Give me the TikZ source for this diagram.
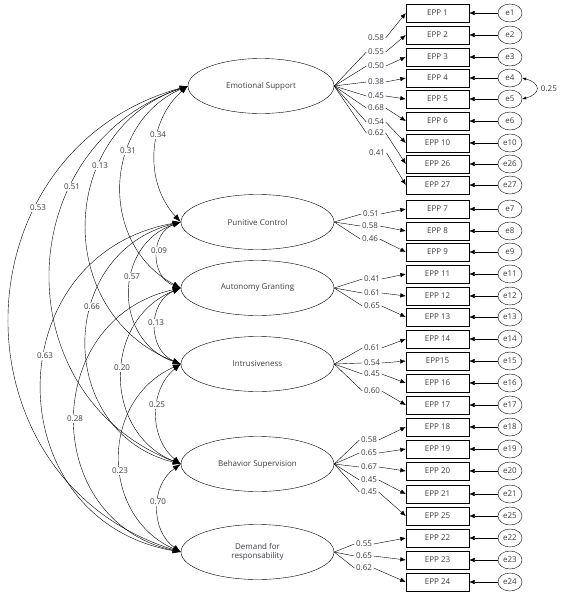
\documentclass[tikz,border=0pt]{standalone}
\usepackage{fontspec}
\setmainfont{Open Sans}
\usetikzlibrary{shapes.geometric, arrows.meta, positioning}
\definecolor{semgray}{RGB}{60,60,72}

\begin{document}
\begin{tikzpicture}[x=1pt, y=1pt, font=\fontsize{8}{9}\selectfont, text=semgray,
  latent/.style={draw, ellipse, minimum width=153pt, minimum height=55pt, inner sep=0pt, align=center},
  item/.style={draw, minimum width=63pt, minimum height=18pt, inner sep=0pt},
  err/.style={draw, ellipse, minimum width=24pt, minimum height=18pt, inner sep=0pt},
  load/.style={inner sep=1.5pt},
  corr/.style={inner sep=1pt, fill=white},
  tip/.style={-{Latex[length=5.5pt, width=4.5pt]}},
  cov/.style={{Latex[length=8pt, width=5.5pt]}-{Latex[length=8pt, width=5.5pt]}}]
 \useasboundingbox (0,0) rectangle (563,-598);
 % latent factors
 \node[latent, minimum width=146pt] (es) at (261,-86) {Emotional Support};
 \node[latent] (pc) at (257.5,-222) {Punitive Control};
 \node[latent] (ag) at (257.5,-288) {Autonomy Granting};
 \node[latent] (intr) at (257.5,-364) {Intrusiveness};
 \node[latent] (bs) at (257.5,-464) {Behavior Supervision};
 \node[latent] (dr) at (257.5,-552) {Demand for\\responsability};
 % items and errors
 \foreach \n/\t/\y in {1/EPP 1/13, 2/EPP 2/35, 3/EPP 3/57, 4/EPP 4/78, 5/EPP 5/99, 6/EPP 6/121, 10/EPP 10/143, 26/EPP 26/164, 27/EPP 27/185,
   7/EPP 7/209, 8/EPP 8/231, 9/EPP 9/252, 11/EPP 11/274, 12/EPP 12/296, 13/EPP 13/317,
   14/EPP 14/339, 15/EPP15/361, 16/EPP 16/383, 17/EPP 17/405, 18/EPP 18/427, 19/EPP 19/449, 20/EPP 20/471, 21/EPP 21/494, 25/EPP 25/516,
   22/EPP 22/538, 23/EPP 23/560, 24/EPP 24/582}{
   \node[item] (epp\n) at (437.5,-\y) {\t};
   \node[err] (err\n) at (510,-\y) {e\n};
   \draw[tip] (err\n) -- (epp\n);
 }
 \draw[{Latex[length=4pt, width=3pt]}-{Latex[length=4pt, width=3pt]}] (err4.east) to[out=-15, in=15, looseness=2.4] node[right=1pt] (c45) {0.25} (err5.east);
 % loadings
 \foreach \n/\v/\x/\y in {1/0.58/376/38, 2/0.55/376/52, 3/0.50/376/66, 4/0.38/376/82, 5/0.45/376/96, 6/0.68/376/108, 10/0.54/376/122, 26/0.62/376/133, 27/0.41/377/153,
   7/0.51/371/214, 8/0.58/370/226, 9/0.46/370/239, 11/0.41/372/279, 12/0.61/372/293, 13/0.65/372/306,
   14/0.61/372/348, 15/0.54/372/363, 16/0.45/372/374, 17/0.60/372/391,
   18/0.58/369/440, 19/0.65/369/453, 20/0.67/369/467, 21/0.45/369/480, 25/0.45/369/492,
   22/0.55/364/544, 23/0.65/364/556, 24/0.62/364/568}{
   \node[load] (ld\n) at (\x,-\y) {\v};
   \draw[tip] (ld\n.east) -- (epp\n.west);
 }
 \foreach \f/\n in {es/2, es/3, es/4, es/5, es/6, es/10, es/26, pc/7, pc/8, pc/9, ag/11, ag/12, ag/13,
   intr/14, intr/15, intr/16, intr/17, bs/18, bs/19, bs/20, bs/21, bs/25, dr/22, dr/23, dr/24}
   \draw (\f.east) -- (ld\n.west);
 % correlations
 \foreach \a/\b/\ang/\lo in {es/pc/46/1.01, es/ag/64/1.18, es/intr/70/1.27, es/bs/70/1.28, es/dr/73.5/1.33,
   pc/ag/70/1.27, pc/intr/71/1.29, pc/bs/76/1.37, pc/dr/80/1.46, ag/intr/67/1.22, ag/bs/68/1.23, ag/dr/77.5/1.40,
   intr/bs/51/1.05, intr/dr/66/1.21, bs/dr/55/1.08}
   \draw[cov] (\a.west) to[bend right=\ang, looseness=\lo] (\b.west);
 \foreach \v/\x/\y [count=\i] in {0.34/158/135, 0.31/128/151, 0.13/100/166, 0.51/72/187, 0.53/38/208,
   0.09/159/251, 0.57/132/277, 0.66/92/307, 0.63/45/356, 0.13/156/323, 0.20/122/368, 0.28/75/419,
   0.25/157/405, 0.23/120/471, 0.70/158/502}
   \node[corr] (r\i) at (\x,-\y) {\v};
\end{tikzpicture}
\end{document}
